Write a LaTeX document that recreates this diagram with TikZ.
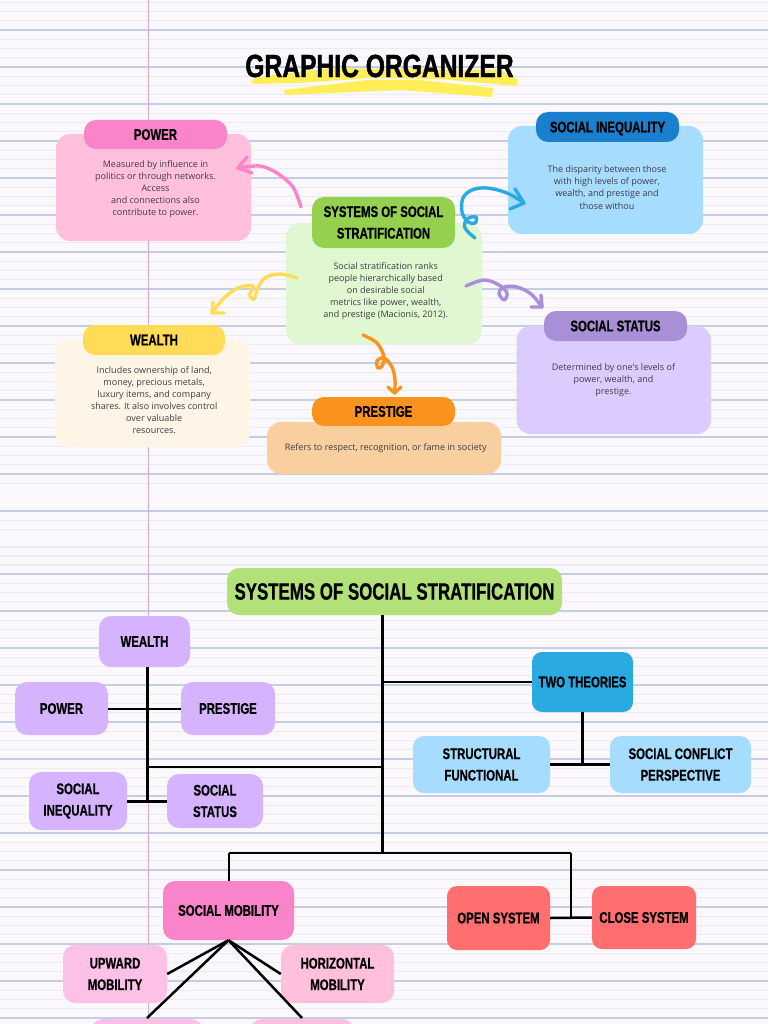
\documentclass[tikz,border=0pt]{standalone}
\usepackage{fontspec}
\newfontfamily\hdf[FakeStretch=0.74,FakeBold=0.6]{Liberation Sans}
\newfontfamily\mainf[FakeStretch=0.715,FakeBold=0.8]{Liberation Sans}
\newfontfamily\titf[FakeStretch=0.77,FakeBold=1.4]{Liberation Sans}
\newfontfamily\bdf{Open Sans}
\definecolor{bgc}{HTML}{FAF8FA}
\definecolor{rule}{HTML}{C3CDE3}
\definecolor{faint}{HTML}{E9ECF1}
\definecolor{margin}{HTML}{DEA9D0}
\definecolor{bodytxt}{HTML}{3F3B44}
\definecolor{pinkA}{HTML}{F984CA}
\definecolor{pinkB}{HTML}{FFC0DD}
\definecolor{pinkC}{HTML}{FDC0E6}
\definecolor{greenA}{HTML}{95D14E}
\definecolor{greenB}{HTML}{DFF8D2}
\definecolor{greenC}{HTML}{B2E17A}
\definecolor{blueA}{HTML}{1A7FCC}
\definecolor{blueB}{HTML}{A6DDFF}
\definecolor{blueC}{HTML}{29ABE2}
\definecolor{violA}{HTML}{A98FD8}
\definecolor{violB}{HTML}{DCCBFF}
\definecolor{violC}{HTML}{D5B3FF}
\definecolor{yelA}{HTML}{FFDC55}
\definecolor{yelB}{HTML}{FFF5E6}
\definecolor{orgA}{HTML}{FA931E}
\definecolor{orgB}{HTML}{F9CFA0}
\definecolor{redA}{HTML}{FF6F6F}
\definecolor{brush}{HTML}{FFEE58}
\tikzset{
  boxnode/.style={inner sep=0pt,align=center,text=black,font=\hdf\bfseries\fontsize{15.4}{21.5}\selectfont},
  bodynode/.style={inner sep=0pt,align=center,text=bodytxt,font=\bdf\fontsize{9}{12.15}\selectfont},
  conn/.style={draw=black,line width=#1},
  conn/.default=2.5pt,
  curl/.style={line width=3.4pt,line cap=round,line join=round},
}
\newcommand{\bx}[8][14]{%
  \pgfmathsetmacro{\bcx}{(#3+#5)/2}\pgfmathsetmacro{\bcy}{(#4+#6)/2}%
  \pgfmathsetmacro{\bw}{#5-#3}\pgfmathsetmacro{\bh}{#6-#4}%
  \node[boxnode,fill=#7,rounded corners=#1pt,minimum width=\bw pt,minimum height=\bh pt] (#2) at (\bcx,\bcy) {#8};}
\begin{document}
\begin{tikzpicture}[x=1pt,y=-1pt]
\useasboundingbox (0,0) rectangle (768,1024);
\clip (0,0) rectangle (768,1024);
\fill[bgc] (0,0) rectangle (768,1024);
% ruled paper
\foreach \k in {-1,...,53} {\draw[faint,line width=1.2pt] (0,{-7+9.25*\k}) -- (768,{-7+9.25*\k});}
\foreach \k in {0,...,52} {\draw[faint,line width=1.2pt] (0,{574+9.25*\k}) -- (768,{574+9.25*\k});}
\fill[bgc] (0,518) rectangle (768,566);
\foreach \y in {520.5,529.5,547,556,565} {\draw[faint,line width=1.2pt] (0,\y) -- (768,\y);}
\foreach \k in {0,...,13} {\draw[rule,line width=1.3pt] (0,{30+37*\k}) -- (768,{30+37*\k});}
\foreach \k in {0,...,12} {\draw[rule,line width=1.3pt] (0,{574+37*\k}) -- (768,{574+37*\k});}
\draw[margin,line width=1.8pt] (148.5,0) -- (148.5,1024);
% title brush
\fill[brush] (250,82) -- (257,77) -- (333,68) -- (500,70) -- (518,80) -- (516,86) -- (440,79) -- (370,78) -- (300,83) -- (255,84) -- cycle;
\fill[brush] (284,90) -- (367,80) -- (420,80) -- (493,88) -- (492,97) -- (400,90) -- (285,95) -- cycle;
\node[inner sep=0pt,font=\titf\bfseries\fontsize{32}{32}\selectfont,text=black] (title) at (379.5,66) {GRAPHIC ORGANIZER};
% upper boxes
\bx{powerB}{56}{134}{251}{241}{pinkB}{}
\bx[12]{powerH}{84}{120}{227}{149}{pinkA}{POWER}
\node[bodynode] (powerT) at (155.5,189.2) {Measured by influence in\\politics or through networks.\\Access\\and connections also\\contribute to power.};
\bx{sysB}{286}{223}{482}{344}{greenB}{}
\bx[12]{sysH}{312}{197}{455}{248}{greenA}{SYSTEMS OF SOCIAL\\STRATIFICATION}
\node[bodynode] (sysT) at (385.7,291) {Social stratification ranks\\people hierarchically based\\on desirable social\\metrics like power, wealth,\\and prestige (Macionis, 2012).};
\bx{ineqB}{508}{126}{703}{234}{blueB}{}
\bx[12]{ineqH}{536}{112}{679}{142}{blueA}{\raisebox{0pt}[\height][0pt]{SOCIAL INEQUALITY}}
\node[bodynode] (ineqT) at (607,187.5) {The disparity between those\\with high levels of power,\\wealth, and prestige and\\those withou};
\bx{statB}{516.5}{326}{711}{434}{violB}{}
\bx[12]{statH}{544}{311}{687}{341}{violA}{SOCIAL STATUS}
\node[bodynode] (statT) at (613.5,379.8) {Determined by one's levels of\\power, wealth, and\\prestige.};
\bx{wealB}{55}{339}{250}{447}{yelB}{}
\bx[12]{wealH}{83}{325}{225}{355}{yelA}{WEALTH}
\node[bodynode] (wealT) at (154.2,400) {Includes ownership of land,\\money, precious metals,\\luxury items, and company\\shares. It also involves control\\over valuable\\resources.};
\bx{presB}{267}{422}{501}{474}{orgB}{}
\bx[12]{presH}{312}{397}{455}{426}{orgA}{PRESTIGE}
\node[bodynode] (presT) at (385.7,448.5) {Refers to respect, recognition, or fame in society};
% curly arrows
\coordinate (pS) at (301,207); \coordinate (pE) at (238,168);
\draw[curl,pinkA] plot[smooth] coordinates {(pS) (293,187) (277,173) (260,166) (pE)};
\draw[curl,pinkA] (247,157) -- (pE) -- (252,173);
\coordinate (bS) at (475,238); \coordinate (bE) at (524,203);
\draw[curl,blueC] plot[smooth,tension=0.6] coordinates {(bS) (465,228) (467,219) (476,217) (475,223) (468,222) (462,212) (463,198) (472,190) (487,188) (507,193) (bE)};
\draw[curl,blueC] (515,189) -- (bE) -- (510,209);
\coordinate (yS) at (297,278); \coordinate (yE) at (212,313);
\draw[curl,yelA] plot[smooth,tension=0.6] coordinates {(yS) (280,274) (265,278) (258,288) (254,299) (249.5,295) (253,286) (238,288) (224,298) (yE)};
\draw[curl,yelA] (224,313) -- (yE) -- (213,302);
\coordinate (vS) at (466,286); \coordinate (vE) at (542,307);
\draw[curl,violA] plot[smooth,tension=0.6] coordinates {(vS) (484,280) (499,285) (507,293) (504,300) (499,293) (504,287) (517,287) (531,294) (vE)};
\draw[curl,violA] (541,295) -- (vE) -- (531,307);
\coordinate (oS) at (363,335); \coordinate (oE) at (394.5,393);
\draw[curl,orgA] plot[smooth,tension=0.6] coordinates {(oS) (377,343) (384,357) (382,366) (378,368) (377,361) (384,358) (392,367) (395,380) (oE)};
\draw[curl,orgA] (388,387) -- (oE) -- (401,387);
% lower boxes
\bx[12]{main}{227}{568}{562}{615}{greenC}{\mainf\bfseries\fontsize{23.6}{26}\selectfont SYSTEMS OF SOCIAL STRATIFICATION}
\bx[12]{lWealth}{99}{616}{190}{667}{violC}{WEALTH}
\bx[12]{lPower}{15}{682}{108}{735}{violC}{POWER}
\bx[12]{lPrest}{181}{682}{275}{735}{violC}{PRESTIGE}
\bx[12]{lIneq}{29}{772}{127}{830}{violC}{SOCIAL\\INEQUALITY}
\bx[12]{lStat}{167}{774}{263}{828}{violC}{SOCIAL\\STATUS}
\bx[10]{lTwo}{532}{652}{633}{712}{blueC}{TWO THEORIES}
\bx[11]{lStruct}{413}{736}{550}{793}{blueB}{STRUCTURAL\\FUNCTIONAL}
\bx[11]{lConf}{610}{736}{751}{793}{blueB}{SOCIAL CONFLICT\\PERSPECTIVE}
\bx[10]{lOpen}{447}{886}{550}{950}{redA}{OPEN SYSTEM}
\bx[10]{lClose}{592}{886}{696}{949}{redA}{CLOSE SYSTEM}
\bx[12]{lMob}{163}{881}{294}{940}{pinkA}{SOCIAL MOBILITY}
\bx[12]{lUp}{63}{945}{167}{1003}{pinkC}{UPWARD\\MOBILITY}
\bx[12]{lHor}{281}{945}{394}{1003}{pinkB}{HORIZONTAL\\MOBILITY}
\bx[12]{lDown}{91}{1019}{203}{1060}{pinkC}{}
\bx[12]{lInter}{250}{1019}{354}{1060}{pinkB}{}
% connectors
\coordinate (trunk) at (382,853);
\coordinate (leftT) at (147,800);
\coordinate (branchL) at (147,767);
\coordinate (mobT) at (229,853);
\coordinate (sysT2) at (571,853);
\coordinate (sysJ) at (571,917);
\coordinate (twoJ) at (582,765);
\coordinate (lDownTop) at (147,1018);
\coordinate (lInterTop) at (302,1018);
\draw[conn=3pt] (main.south -| trunk) -- (trunk);
\draw[conn] (lTwo.west) -- (lTwo.west -| trunk);
\draw[conn=3pt] (lTwo.south -| twoJ) -- (twoJ);
\draw[conn] (lStruct.east) -- (lConf.west);
\draw[conn=2pt] (branchL) -- (branchL -| trunk);
\draw[conn=3pt] (lWealth.south -| leftT) -- (leftT);
\draw[conn=2pt] (lPower.east) -- (lPrest.west);
\draw[conn=3pt] (lIneq.east) -- (lStat.west);
\draw[conn=2.5pt] (mobT) -- (sysT2);
\draw[conn] (mobT) -- (mobT |- lMob.north);
\draw[conn] (sysT2) -- (sysJ);
\draw[conn] (lOpen.east) -- (lClose.west);
\draw[conn] (lMob.south) -- (lUp.east);
\draw[conn] (lMob.south) -- (lHor.west);
\draw[conn] (lMob.south) -- (lDownTop);
\draw[conn] (lMob.south) -- (lInterTop);
\end{tikzpicture}
\end{document}
